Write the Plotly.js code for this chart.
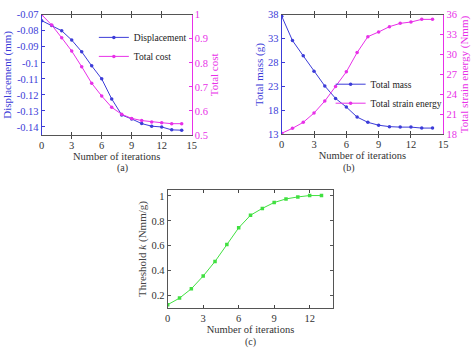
<!DOCTYPE html>
<html>
<head>
<meta charset="utf-8">
<script src="https://cdn.plot.ly/plotly-3.0.1.min.js"></script>
<style>html,body{margin:0;padding:0;background:#fff;}#chart{width:474px;height:352px;}</style>
</head>
<body>
<div id="chart"></div>
<script>
// Panel (a)
const iterA = [0,1,2,3,4,5,6,7,8,9,10,11,12,13,14];
const displacement = [-0.0737,-0.0767,-0.0800,-0.0858,-0.0931,-0.1019,-0.1100,-0.1225,-0.1325,-0.1350,-0.1379,-0.1395,-0.1400,-0.1418,-0.1420];
const totalCost = [1.000,0.957,0.904,0.849,0.784,0.715,0.662,0.615,0.586,0.569,0.560,0.554,0.551,0.547,0.547];
const dispTicks = [-0.07,-0.08,-0.09,-0.1,-0.11,-0.12,-0.13,-0.14];
const dispTickText = ["-0.07","-0.08","-0.09","-0.1","-0.11","-0.12","-0.13","-0.14"];
const costTicks = [0.5,0.6,0.7,0.8,0.9,1];
// Panel (b)
const iterB = [0,1,2,3,4,5,6,7,8,9,10,11,12,13,14];
const totalMass = [37.7,32.6,29.4,26.2,23.1,20.5,18.7,16.6,15.5,14.9,14.6,14.5,14.5,14.3,14.3];
const strainEnergy = [18.15,18.9,19.8,21.2,23.0,25.2,27.4,30.3,32.7,33.4,34.2,34.7,34.9,35.3,35.3];
const massTicks = [13,18,23,28,33,38];
const energyTicks = [18,21,24,27,30,33,36];
// Panel (c)
const iterC = [0,1,2,3,4,5,6,7,8,9,10,11,12,13];
const thresholdK = [0.127,0.180,0.255,0.357,0.474,0.610,0.744,0.845,0.900,0.947,0.976,0.992,1.003,1.003];
const kTicks = [0.2,0.4,0.6,0.8,1];
const iterTicks = [0,3,6,9,12,15];

const BLUE = '#3c3cd8', MAG = '#e830e8', GREEN = '#40e040', GRAY = '#555';
const FONT = 'Liberation Serif, Times New Roman, serif';

const traces = [
  {x: iterA, y: displacement, name: 'Displacement', xaxis: 'x', yaxis: 'y', mode: 'lines+markers',
   line: {color: BLUE, width: 1}, marker: {symbol: 'circle', size: 3.5, color: BLUE}, legend: 'legend'},
  {x: iterA, y: totalCost, name: 'Total cost', xaxis: 'x', yaxis: 'y2', mode: 'lines+markers',
   line: {color: MAG, width: 1}, marker: {symbol: 'circle', size: 3.5, color: MAG}, legend: 'legend'},
  {x: iterB, y: totalMass, name: 'Total mass', xaxis: 'x2', yaxis: 'y3', mode: 'lines+markers',
   line: {color: BLUE, width: 1}, marker: {symbol: 'circle', size: 3.5, color: BLUE}, legend: 'legend2'},
  {x: iterB, y: strainEnergy, name: 'Total strain energy', xaxis: 'x2', yaxis: 'y4', mode: 'lines+markers',
   line: {color: MAG, width: 1}, marker: {symbol: 'circle', size: 3.5, color: MAG}, legend: 'legend2'},
  {x: iterC, y: thresholdK, name: 'Threshold k', xaxis: 'x3', yaxis: 'y5', mode: 'lines+markers',
   line: {color: GREEN, width: 1}, marker: {symbol: 'square', size: 3.5, color: GREEN}, showlegend: false}
];

function xax(domain, range, anchor) {
  return {domain: domain, range: range, anchor: anchor, tickvals: iterTicks, ticks: 'inside', ticklen: 3,
    showline: true, linecolor: GRAY, linewidth: 1, mirror: 'allticks', showgrid: false, zeroline: false,
    tickfont: {size: 10.5, color: '#333'},
    title: {text: 'Number of iterations', font: {size: 10.5, color: '#333'}, standoff: 1}};
}
function yax(domain, range, anchor, color, tickvals, title, side, overlay, ticktext) {
  const a = {domain: domain, range: range, anchor: anchor, tickvals: tickvals, ticks: 'inside', ticklen: 3,
    tickcolor: color, showline: true, linecolor: color, linewidth: 1, showgrid: false, zeroline: false,
    tickfont: {size: 10.5, color: color}, side: side,
    title: {text: title, font: {size: 11, color: color}, standoff: 2}};
  if (ticktext) a.ticktext = ticktext;
  if (overlay) a.overlaying = overlay;
  return a;
}

const layout = {
  width: 474, height: 352,
  margin: {l: 0, r: 0, t: 0, b: 0},
  paper_bgcolor: '#fff', plot_bgcolor: 'rgba(0,0,0,0)',
  font: {family: FONT, size: 10, color: '#333'},
  xaxis: xax([0.088, 0.4044], [0, 15], 'y'),
  yaxis: yax([0.6165, 0.9582], [-0.145, -0.07], 'x', BLUE, dispTicks, 'Displacement (mm)', 'left', null, dispTickText),
  yaxis2: yax([0.6165, 0.9582], [0.5, 1], 'x', MAG, costTicks, 'Total cost', 'right', 'y'),
  xaxis2: xax([0.5943, 0.9352], [0, 15], 'y3'),
  yaxis3: yax([0.6185, 0.9582], [13, 38], 'x2', BLUE, massTicks, 'Total mass (g)', 'left'),
  yaxis4: yax([0.6185, 0.9582], [18, 36], 'x2', MAG, energyTicks, 'Total strain energy (Nmm)', 'right', 'y3'),
  xaxis3: Object.assign(xax([0.3538, 0.7032], [0, 14], 'y5'), {tickvals: [0,3,6,9,12]}),
  yaxis5: Object.assign(yax([0.1241, 0.4611], [0.098, 1.05], 'x3', GRAY, kTicks, 'Threshold <i>k</i> (Nmm/g)', 'left'),
    {mirror: 'allticks', tickfont: {size: 10.5, color: '#333'}, title: {text: 'Threshold <i>k</i> (Nmm/g)', font: {size: 11, color: '#444'}, standoff: 2}}),
  legend: {x: 0.198, y: 0.935, xanchor: 'left', yanchor: 'top', bgcolor: 'rgba(0,0,0,0)',
    font: {size: 9.5, color: '#222'}, tracegroupgap: 0, itemwidth: 30},
  legend2: {x: 0.6975, y: 0.802, xanchor: 'left', yanchor: 'top', bgcolor: 'rgba(0,0,0,0)',
    font: {size: 9.5, color: '#222'}, tracegroupgap: 0, itemwidth: 30},
  annotations: [
    {text: '(a)', x: 0.243, y: 1 - 168/352, xref: 'paper', yref: 'paper', yanchor: 'middle', showarrow: false, font: {size: 10, color: '#333'}},
    {text: '(b)', x: 0.753, y: 1 - 168/352, xref: 'paper', yref: 'paper', yanchor: 'middle', showarrow: false, font: {size: 10, color: '#333'}},
    {text: '(c)', x: 0.528, y: 1 - 342/352, xref: 'paper', yref: 'paper', yanchor: 'middle', showarrow: false, font: {size: 10, color: '#333'}}
  ]
};

Plotly.newPlot('chart', traces, layout, {displayModeBar: false, staticPlot: true});
</script>
</body>
</html>
